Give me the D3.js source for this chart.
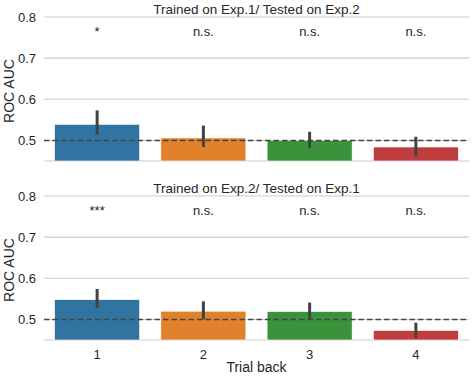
<!DOCTYPE html>
<html>
<head>
<meta charset="utf-8">
<script src="https://cdn.jsdelivr.net/npm/d3@7"></script>
<style>
  body { margin: 0; background: #fff; }
  text { font-family: "Liberation Sans", Arial, sans-serif; fill: #262626; }
</style>
</head>
<body>
<div id="chart"></div>
<script>
// data
const trials = ['1', '2', '3', '4'];
const titles = ['Trained on Exp.1/ Tested on Exp.2', 'Trained on Exp.2/ Tested on Exp.1'];
const meansA = [0.539, 0.506, 0.500, 0.484];
const lowA = [0.514, 0.484, 0.481, 0.461];
const highA = [0.573, 0.536, 0.521, 0.509];
const sigA = ['*', 'n.s.', 'n.s.', 'n.s.'];
const meansB = [0.548, 0.520, 0.519, 0.473];
const lowB = [0.528, 0.500, 0.500, 0.454];
const highB = [0.574, 0.544, 0.541, 0.492];
const sigB = ['***', 'n.s.', 'n.s.', 'n.s.'];
const yTicks = [0.5, 0.6, 0.7, 0.8];

// style configs
const colors = ['#3274a1', '#e1812c', '#3a923a', '#c03d3e'];
const width = 474;
const height = 379;
const left = 44, right = 469;

const svg = d3.select('#chart').append('svg')
  .attr('width', width)
  .attr('height', height);

const x = d3.scaleBand()
  .domain(trials)
  .range([left, right])
  .paddingInner(0.2)
  .paddingOuter(0.1);

const panels = [
  { top: 17, bottom: 161, title: titles[0], means: meansA, low: lowA, high: highA, sig: sigA },
  { top: 196, bottom: 340, title: titles[1], means: meansB, low: lowB, high: highB, sig: sigB }
];

panels.forEach((p, k) => {
  // 0.8 at top, baseline at 0.45
  const y = d3.scaleLinear()
    .domain([0.45, 0.8])
    .range([p.bottom, p.top]);

  const g = svg.append('g');

  // grid
  g.selectAll('.grid')
    .data(yTicks.concat([0.45]))
    .enter()
    .append('line')
    .attr('x1', left)
    .attr('x2', right)
    .attr('y1', d => y(d))
    .attr('y2', d => y(d))
    .attr('stroke', '#cccccc')
    .attr('stroke-width', 1.1);

  g.selectAll('.ytick')
    .data(yTicks)
    .enter()
    .append('text')
    .attr('x', 36)
    .attr('y', d => y(d))
    .attr('dy', '0.35em')
    .attr('text-anchor', 'end')
    .style('font-size', '13px')
    .text(d => d3.format('.1f')(d));

  g.append('text')
    .attr('transform', `translate(14,${(p.top + p.bottom) / 2 + 2}) rotate(-90)`)
    .attr('text-anchor', 'middle')
    .style('font-size', '14px')
    .text('ROC AUC');

  g.append('text')
    .attr('x', (left + right) / 2)
    .attr('y', p.top - 3)
    .attr('text-anchor', 'middle')
    .style('font-size', '13.5px')
    .text(p.title);

  // bars
  g.selectAll('.bar')
    .data(p.means)
    .enter()
    .append('rect')
    .attr('x', (d, i) => x(trials[i]))
    .attr('width', x.bandwidth())
    .attr('y', d => y(d))
    .attr('height', d => y(0.45) - y(d))
    .attr('fill', (d, i) => colors[i])
    .attr('stroke', '#ffffff')
    .attr('stroke-width', 0.6);

  // chance line
  g.append('line')
    .attr('x1', left)
    .attr('x2', right)
    .attr('y1', y(0.5))
    .attr('y2', y(0.5))
    .attr('stroke', '#444444')
    .attr('stroke-width', 1.5)
    .attr('stroke-dasharray', '5.5,3');

  // error bars
  g.selectAll('.err')
    .data(p.means)
    .enter()
    .append('line')
    .attr('x1', (d, i) => x(trials[i]) + x.bandwidth() / 2)
    .attr('x2', (d, i) => x(trials[i]) + x.bandwidth() / 2)
    .attr('y1', (d, i) => y(p.low[i]))
    .attr('y2', (d, i) => y(p.high[i]))
    .attr('stroke', '#424242')
    .attr('stroke-width', 3);

  // significance labels
  g.selectAll('.sig')
    .data(p.sig)
    .enter()
    .append('text')
    .attr('x', (d, i) => x(trials[i]) + x.bandwidth() / 2)
    .attr('y', y(0.755))
    .attr('text-anchor', 'middle')
    .style('font-size', '13px')
    .text(d => d);
});

// x axis labels
svg.selectAll('.xtick')
  .data(trials)
  .enter()
  .append('text')
  .attr('x', d => x(d) + x.bandwidth() / 2)
  .attr('y', 359)
  .attr('text-anchor', 'middle')
  .style('font-size', '13px')
  .text(d => d);

svg.append('text')
  .attr('x', (left + right) / 2)
  .attr('y', 372)
  .attr('text-anchor', 'middle')
  .style('font-size', '14px')
  .text('Trial back');
</script>
</body>
</html>
